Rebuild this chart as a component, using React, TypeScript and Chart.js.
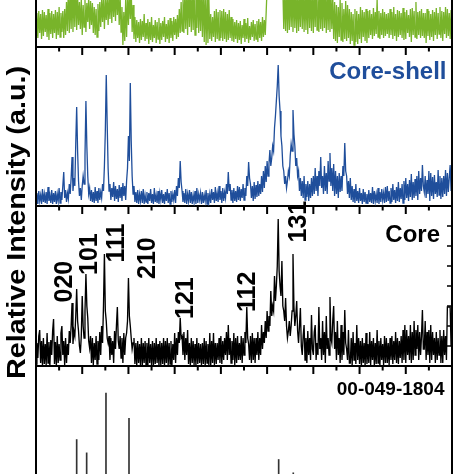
import { useEffect, useRef } from "react";
import { Chart, registerables } from "chart.js";

Chart.register(...registerables);

const FONT = '"Liberation Sans", Arial, Helvetica, sans-serif';
const PAGE = 474;

// 2θ scan grid (degrees)
const TWO_THETA_START = 10;
const TWO_THETA_STEP = 0.1;
const TWO_THETA_MIN = 10;
const TWO_THETA_MAX = 55;

// Diffractogram of the uppermost sample (counts, one value per 0.1° step, 10–55°)
const GREEN_COUNTS = [
  12, 34, 9, 36, 14, 33, 8, 37, 11, 35, 15, 32, 10, 38, 7, 34, 13, 36, 9, 33,
  14, 37, 8, 35, 12, 40, 10, 34, 15, 36, 9, 38, 12, 45, 16, 60, 14, 55, 18, 62,
  15, 58, 20, 65, 17, 52, 22, 45, 18, 48, 12, 42, 20, 47, 15, 44, 25, 50, 18, 46,
  22, 44, 14, 40, 12, 38, 10, 43, 16, 45, 20, 48, 25, 52, 18, 47, 27, 55, 22, 50,
  28, 58, 24, 60, 30, 55, 26, 62, 32, 57, 22, 52, 15, 40, 2, 35, 6, 48, 10, 52,
  22, 55, 28, 58, 15, 42, 8, 30, 5, 27, 9, 25, 4, 28, 7, 26, 10, 33, 6, 24,
  8, 28, 3, 25, 7, 30, 5, 22, 9, 27, 4, 25, 8, 29, 3, 24, 7, 26, 10, 30,
  5, 23, 8, 27, 4, 29, 9, 26, 6, 30, 12, 28, 8, 32, 10, 38, 14, 45, 16, 52,
  14, 55, 18, 58, 12, 62, 20, 56, 15, 60, 17, 58, 12, 55, 19, 63, 14, 57, 16, 60,
  10, 58, 5, 55, 2, 50, 4, 48, 8, 33, 6, 30, 10, 36, 5, 38, 8, 35, 7, 37,
  9, 36, 6, 38, 8, 35, 5, 33, 7, 37, 9, 30, 6, 28, 5, 25, 8, 27, 4, 24,
  7, 26, 3, 22, 9, 28, 5, 24, 8, 29, 4, 21, 7, 25, 10, 27, 6, 23, 8, 26,
  5, 28, 9, 25, 6, 30, 10, 27, 12, 35, 60, 56, 65, 58, 70, 62, 68, 57, 72, 60,
  63, 75, 58, 68, 55, 70, 52, 60, 18, 55, 16, 62, 14, 58, 17, 60, 20, 56, 15, 62,
  19, 58, 14, 60, 16, 55, 20, 63, 18, 57, 15, 60, 17, 58, 13, 62, 19, 56, 16, 60,
  14, 58, 20, 63, 17, 55, 15, 60, 18, 57, 16, 62, 19, 55, 14, 60, 17, 58, 15, 56,
  18, 50, 8, 45, 6, 42, 4, 40, 10, 48, 7, 44, 5, 38, 8, 46, 6, 42, 9, 38,
  3, 35, 6, 33, 2, 38, 5, 36, 3, 33, 8, 40, 4, 37, 10, 35, 6, 38, 4, 36,
  9, 37, 12, 33, 8, 39, 11, 35, 13, 48, 10, 36, 8, 34, 12, 38, 9, 35, 11, 33,
  13, 34, 9, 38, 12, 35, 8, 40, 11, 33, 6, 37, 10, 36, 12, 34, 9, 39, 7, 35,
  8, 37, 14, 32, 10, 38, 5, 39, 12, 36, 10, 45, 8, 35, 12, 36, 9, 38, 11, 34,
  9, 34, 4, 38, 11, 36, 7, 33, 10, 37, 6, 35, 12, 39, 8, 34, 13, 40, 9, 36,
  6, 35, 13, 40, 9, 38, 11, 34, 8, 37, 10,
];

// Core-shell diffractogram (counts)
const CORE_SHELL_COUNTS = [
  3, 13, 2, 15, 5, 11, 2, 17, 4, 12, 3, 14, 2, 19, 5, 11, 3, 16, 2, 13,
  4, 15, 2, 12, 5, 18, 3, 14, 6, 20, 34, 8, 16, 4, 13, 7, 22, 12, 28, 49,
  15, 28, 20, 62, 99, 55, 25, 10, 18, 6, 20, 30, 22, 50, 105, 60, 30, 12, 18, 5,
  16, 4, 14, 3, 19, 5, 15, 3, 18, 6, 14, 8, 22, 15, 40, 75, 131, 82, 38, 15,
  22, 6, 18, 9, 24, 5, 20, 7, 17, 4, 21, 8, 19, 5, 23, 10, 20, 6, 25, 38,
  70, 45, 123, 65, 30, 12, 20, 4, 14, 3, 16, 2, 12, 5, 15, 3, 17, 2, 11, 4,
  14, 2, 13, 5, 17, 3, 12, 2, 18, 4, 11, 3, 15, 2, 13, 6, 16, 3, 12, 2,
  14, 5, 17, 3, 13, 2, 15, 4, 12, 6, 16, 3, 20, 10, 28, 18, 45, 24, 15, 4,
  13, 3, 17, 2, 12, 5, 16, 3, 14, 2, 11, 4, 15, 2, 18, 3, 12, 6, 13, 2,
  14, 3, 11, 5, 16, 2, 13, 4, 12, 3, 17, 6, 14, 3, 19, 5, 13, 4, 20, 6,
  15, 3, 18, 5, 14, 8, 22, 12, 34, 15, 22, 6, 16, 3, 18, 5, 15, 4, 20, 6,
  19, 5, 17, 8, 22, 6, 18, 10, 30, 20, 44, 28, 22, 8, 20, 5, 24, 7, 21, 9,
  25, 10, 22, 12, 30, 14, 35, 18, 40, 24, 45, 30, 42, 56, 40, 48, 60, 55, 78, 90,
  105, 120, 141, 110, 95, 70, 60, 40, 35, 22, 30, 18, 25, 35, 30, 50, 62, 55, 96, 72,
  60, 40, 48, 30, 35, 15, 28, 10, 25, 8, 30, 6, 22, 9, 25, 5, 22, 8, 28, 10,
  30, 12, 38, 15, 30, 10, 35, 20, 49, 18, 30, 12, 40, 15, 33, 12, 45, 25, 53, 20,
  38, 15, 42, 10, 35, 12, 30, 8, 33, 14, 30, 15, 40, 30, 63, 35, 30, 12, 25, 8,
  28, 6, 20, 4, 17, 3, 22, 5, 15, 3, 18, 5, 13, 2, 17, 4, 14, 3, 12, 2,
  16, 4, 13, 3, 19, 2, 15, 5, 12, 3, 18, 2, 14, 4, 17, 6, 13, 3, 19, 4,
  20, 5, 15, 3, 18, 4, 22, 6, 16, 3, 19, 5, 24, 4, 18, 7, 22, 3, 25, 6,
  28, 8, 22, 5, 26, 9, 32, 6, 24, 8, 27, 10, 30, 6, 35, 12, 28, 15, 41, 20,
  14, 30, 8, 26, 12, 35, 5, 33, 10, 29, 7, 31, 12, 24, 9, 36, 11, 30, 7, 28,
  9, 30, 12, 36, 10, 33, 14, 28, 41, 15, 25,
];

// Core diffractogram (counts)
const CORE_COUNTS = [
  2, 23, 8, 30, 36, 3, 25, 0, 28, 2, 22, 1, 33, 3, 24, 0, 26, 11, 35, 47,
  2, 24, 0, 30, 3, 22, 6, 33, 40, 11, 25, 1, 28, 3, 22, 11, 35, 23, 40, 63,
  22, 35, 30, 50, 77, 45, 35, 20, 13, 30, 70, 40, 28, 55, 92, 60, 48, 25, 18, 30,
  3, 28, 1, 23, 6, 30, 2, 25, 6, 34, 11, 40, 23, 60, 112, 55, 45, 28, 23, 30,
  6, 28, 11, 25, 3, 35, 17, 40, 59, 25, 17, 30, 8, 28, 3, 33, 11, 28, 33, 45,
  88, 50, 40, 28, 17, 23, 28, 2, 23, 0, 25, 3, 22, 1, 28, 0, 23, 3, 25, 1,
  23, 0, 28, 3, 22, 1, 25, 0, 23, 2, 28, 3, 22, 0, 25, 1, 23, 2, 28, 0,
  25, 3, 28, 1, 23, 2, 25, 0, 22, 6, 33, 3, 28, 11, 34, 23, 48, 28, 30, 11,
  34, 6, 28, 11, 36, 2, 23, 0, 28, 3, 25, 1, 22, 0, 28, 2, 23, 3, 22, 1,
  23, 2, 28, 0, 25, 3, 22, 1, 33, 0, 25, 3, 33, 1, 23, 2, 23, 6, 28, 3,
  30, 2, 25, 6, 28, 11, 34, 6, 41, 11, 28, 3, 25, 6, 33, 1, 28, 3, 30, 6,
  23, 6, 30, 3, 28, 11, 34, 23, 59, 28, 22, 6, 30, 3, 33, 6, 28, 3, 28, 11,
  34, 6, 28, 11, 41, 17, 34, 23, 45, 28, 55, 35, 50, 40, 75, 50, 60, 55, 90, 65,
  80, 100, 147, 95, 80, 70, 105, 60, 55, 45, 68, 40, 28, 35, 45, 30, 40, 55, 112, 60,
  40, 50, 65, 35, 23, 40, 58, 20, 11, 30, 41, 6, 28, 3, 35, 11, 28, 6, 51, 17,
  11, 34, 41, 6, 23, 11, 59, 17, 28, 6, 45, 11, 34, 3, 50, 17, 28, 11, 69, 28,
  23, 45, 60, 17, 34, 6, 45, 11, 28, 3, 41, 6, 34, 11, 56, 23, 17, 6, 36, 3,
  3, 28, 0, 34, 6, 23, 2, 41, 6, 28, 2, 25, 0, 28, 3, 23, 0, 33, 2, 22,
  3, 34, 1, 25, 6, 28, 0, 23, 2, 36, 3, 25, 0, 28, 6, 22, 1, 30, 3, 28,
  3, 23, 1, 28, 6, 30, 2, 25, 6, 34, 3, 28, 2, 25, 8, 30, 3, 36, 6, 41,
  3, 36, 11, 30, 6, 41, 3, 34, 6, 45, 11, 36, 17, 41, 6, 34, 11, 30, 56, 17,
  17, 45, 6, 34, 11, 36, 3, 41, 6, 34, 11, 28, 3, 34, 6, 28, 11, 36, 3, 30,
  3, 36, 11, 30, 6, 59, 59, 59, 59, 20, 59,
];

// Reference pattern 00-049-1804: line positions (2θ) and relative intensities (%)
const REF_CARD = "00-049-1804";
const REF_POSITIONS = [14.4, 15.48, 17.57, 20.06, 36.25, 37.83];
const REF_INTENSITIES = [65, 55, 100, 81, 50, 40];

// Miller-index labels on the core pattern: text, baseline position (2θ), start level (counts)
const HKL_LABELS = ["020", "101", "111", "210", "121", "112", "131"];
const HKL_LABEL_2THETA = [13.86, 16.57, 19.52, 22.87, 27.02, 33.69, 39.21];
const HKL_LABEL_LEVEL = [63.5, 91, 103.5, 87, 47, 54, 123.5];

// Axis ticks
const MAJOR_TICKS = [15, 20, 25, 30, 35, 40, 45, 50];
const MINOR_TICKS = [12.5, 17.5, 22.5, 27.5, 32.5, 37.5, 42.5, 47.5, 52.5];
const CORE_RIGHT_TICKS = [20, 40, 60, 80, 100, 120, 140];

const Y_TITLE = "Relative Intensity (a.u.)";

const GREEN = "#78b42a";
const BLUE = "#1f4e9b";
const BLACK = "#000000";

type PanelName = { text: string; color: string; size: number; right: number; baseline: number };
type FrameOpts = {
  topAxis: boolean;
  rightTicks?: number[];
  name?: PanelName;
  hkl?: boolean;
  yTitle?: boolean;
};

// Draws the panel frame, inward ticks, the panel caption and annotations
function framePlugin(o: FrameOpts) {
  return {
    id: "panelFrame",
    afterDatasetsDraw(chart: any) {
      const { ctx, chartArea: a } = chart;
      const xs = chart.scales.x;
      const ys = chart.scales.y;
      ctx.save();
      ctx.strokeStyle = "#000";
      ctx.lineWidth = 2;
      ctx.beginPath();
      ctx.moveTo(a.left, a.top - 1);
      ctx.lineTo(a.left, a.bottom + 1);
      ctx.moveTo(a.right, a.top - 1);
      ctx.lineTo(a.right, a.bottom + 1);
      if (o.topAxis) {
        ctx.moveTo(a.left - 1, a.top);
        ctx.lineTo(a.right + 1, a.top);
      }
      ctx.stroke();

      if (o.topAxis) {
        ctx.beginPath();
        for (const v of MAJOR_TICKS) {
          const px = xs.getPixelForValue(v);
          ctx.moveTo(px, a.top);
          ctx.lineTo(px, a.top + 8);
        }
        for (const v of MINOR_TICKS) {
          const px = xs.getPixelForValue(v);
          ctx.moveTo(px, a.top);
          ctx.lineTo(px, a.top + 4.5);
        }
        ctx.stroke();
      }

      if (o.rightTicks) {
        ctx.lineWidth = 1.5;
        ctx.beginPath();
        for (const v of o.rightTicks) {
          const py = ys.getPixelForValue(v);
          ctx.moveTo(a.right, py);
          ctx.lineTo(a.right - 5, py);
        }
        ctx.stroke();
      }

      if (o.name) {
        ctx.fillStyle = o.name.color;
        ctx.font = `bold ${o.name.size}px ${FONT}`;
        ctx.textAlign = "right";
        ctx.textBaseline = "alphabetic";
        ctx.fillText(o.name.text, a.right - o.name.right, a.top + o.name.baseline);
      }

      if (o.hkl) {
        ctx.fillStyle = "#000";
        ctx.font = `bold 25px ${FONT}`;
        ctx.textAlign = "left";
        ctx.textBaseline = "alphabetic";
        HKL_LABELS.forEach((label, i) => {
          const px = xs.getPixelForValue(HKL_LABEL_2THETA[i]);
          const py = ys.getPixelForValue(HKL_LABEL_LEVEL[i]);
          ctx.save();
          ctx.translate(px, py);
          ctx.rotate(-Math.PI / 2);
          ctx.fillText(label, 0, 0);
          ctx.restore();
        });
      }

      if (o.yTitle) {
        ctx.fillStyle = "#000";
        ctx.font = `bold 26px ${FONT}`;
        ctx.textAlign = "center";
        ctx.textBaseline = "alphabetic";
        const w = ctx.measureText(Y_TITLE).width;
        ctx.save();
        ctx.translate(25, 222.5);
        ctx.rotate(-Math.PI / 2);
        ctx.scale(313 / w, 1);
        ctx.fillText(Y_TITLE, 0, 0);
        ctx.restore();
      }
      ctx.restore();
    },
  };
}

function scanPoints(counts: number[]) {
  return counts.map((y, i) => ({ x: TWO_THETA_START + i * TWO_THETA_STEP, y }));
}

function baseOptions(top: number, bottom: number, yMin: number, yMax: number) {
  return {
    responsive: false,
    animation: false as const,
    devicePixelRatio: 1,
    events: [] as any[],
    layout: { padding: { left: 36, right: 22, top, bottom: PAGE - bottom } },
    scales: {
      x: {
        type: "linear" as const,
        min: TWO_THETA_MIN,
        max: TWO_THETA_MAX,
        offset: false,
        grid: { offset: false },
        display: false,
      },
      y: { type: "linear" as const, min: yMin, max: yMax, display: false },
    },
    plugins: { legend: { display: false }, tooltip: { enabled: false } },
  };
}

function lineConfig(
  counts: number[],
  color: string,
  width: number,
  top: number,
  bottom: number,
  yMax: number,
  frame: FrameOpts
) {
  return {
    type: "line" as const,
    data: {
      datasets: [
        {
          data: scanPoints(counts),
          borderColor: color,
          borderWidth: width,
          pointRadius: 0,
          tension: 0,
          fill: false,
        },
      ],
    },
    options: baseOptions(top, bottom, 0, yMax),
    plugins: [framePlugin(frame)],
  };
}

function referenceConfig() {
  return {
    type: "bar" as const,
    data: {
      datasets: [
        {
          data: REF_POSITIONS.map((x, i) => ({ x, y: REF_INTENSITIES[i] })),
          backgroundColor: "#333333",
          borderWidth: 0,
          barThickness: 1,
        },
      ],
    },
    options: baseOptions(366, PAGE, 39.1, 120.3),
    plugins: [
      framePlugin({
        topAxis: true,
        name: { text: REF_CARD, color: BLACK, size: 19, right: 7.5, baseline: 29 },
      }),
    ],
  };
}

export default function App() {
  const refCanvas = useRef<HTMLCanvasElement>(null);
  const coreCanvas = useRef<HTMLCanvasElement>(null);
  const shellCanvas = useRef<HTMLCanvasElement>(null);
  const greenCanvas = useRef<HTMLCanvasElement>(null);

  useEffect(() => {
    const charts: Chart[] = [];
    charts.push(new Chart(refCanvas.current!, referenceConfig() as any));
    charts.push(
      new Chart(
        coreCanvas.current!,
        lineConfig(CORE_COUNTS, BLACK, 1.35, 206, 366, 160, {
          topAxis: true,
          rightTicks: CORE_RIGHT_TICKS,
          hkl: true,
          name: { text: "Core", color: BLACK, size: 24, right: 12, baseline: 35.5 },
        }) as any
      )
    );
    charts.push(
      new Chart(
        shellCanvas.current!,
        lineConfig(CORE_SHELL_COUNTS, BLUE, 1.3, 47, 206, 159, {
          topAxis: true,
          yTitle: true,
          name: { text: "Core-shell", color: BLUE, size: 24, right: 5.5, baseline: 32 },
        }) as any
      )
    );
    charts.push(
      new Chart(
        greenCanvas.current!,
        lineConfig(GREEN_COUNTS, GREEN, 1.3, 0, 47, 47, { topAxis: false }) as any
      )
    );
    return () => charts.forEach((c) => c.destroy());
  }, []);

  const layer: React.CSSProperties = {
    position: "absolute",
    left: 0,
    top: 0,
    width: PAGE,
    height: PAGE,
  };

  return (
    <div
      style={{
        position: "fixed",
        left: 0,
        top: 0,
        width: PAGE,
        height: PAGE,
        background: "#fff",
        overflow: "hidden",
      }}
    >
      <canvas ref={refCanvas} width={PAGE} height={PAGE} style={layer} />
      <canvas ref={coreCanvas} width={PAGE} height={PAGE} style={layer} />
      <canvas ref={shellCanvas} width={PAGE} height={PAGE} style={layer} />
      <canvas ref={greenCanvas} width={PAGE} height={PAGE} style={layer} />
    </div>
  );
}
